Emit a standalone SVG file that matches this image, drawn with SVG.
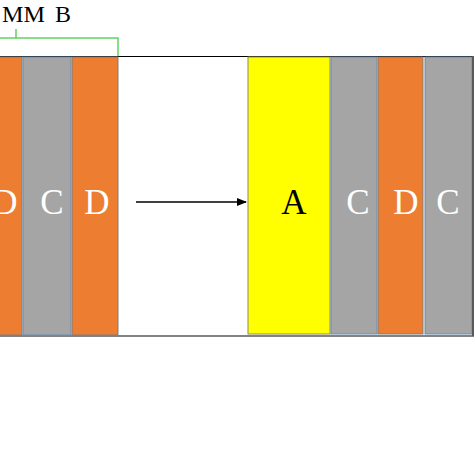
<svg xmlns="http://www.w3.org/2000/svg" width="474" height="474" viewBox="0 0 474 474">
<defs>
<style>
.o{fill:#ED7D31;stroke:#7F7F7F;stroke-width:1}
.g{fill:#A5A5A5;stroke:#6A8CAE;stroke-width:1}
.y{fill:#FFFF00;stroke:#8C8C5A;stroke-width:1}
.t{font-family:"Liberation Serif",serif;font-size:35px;text-anchor:middle;fill:#FFFFFF}
.h{font-family:"Liberation Serif",serif;font-size:24px;fill:#000}
</style>
<marker id="ah" markerWidth="10" markerHeight="8" refX="9" refY="4" orient="auto" markerUnits="userSpaceOnUse">
<path d="M0,0 L10,4 L0,8 Z" fill="#000"/>
</marker>
</defs>
<rect width="474" height="474" fill="#fff"/>
<line x1="0" y1="56.5" x2="474" y2="56.5" stroke="#000" stroke-width="1"/>
<line x1="0" y1="336" x2="474" y2="336" stroke="#595959" stroke-width="1.5"/>
<g id="n1"><rect class="o" x="-2" y="57" width="24" height="278"/><text class="t" x="5" y="214">D</text></g>
<g id="n2"><rect class="g" x="23" y="57" width="48" height="278"/><text class="t" x="52" y="214">C</text></g>
<g id="n3"><rect class="o" x="72" y="57" width="46" height="278"/><text class="t" x="97" y="214">D</text></g>
<g id="n4"><rect class="y" x="248" y="57" width="82" height="277"/><text class="t" x="294" y="214" style="fill:#000">A</text></g>
<g id="n5"><rect class="g" x="331" y="57" width="46" height="277"/><text class="t" x="358" y="214">C</text></g>
<g id="n6"><rect class="o" x="378" y="57" width="45" height="277"/><text class="t" x="406" y="214">D</text></g>
<g id="n7"><rect class="g" x="425" y="57" width="47" height="277"/><text class="t" x="448" y="214">C</text></g>
<line x1="473" y1="56" x2="473" y2="336" stroke="#595959" stroke-width="2"/>
<g id="label">
<path d="M0,38 H118 V56 M16,38 V29" fill="none" stroke="#5FD35F" stroke-width="1.5"/>
<text class="h" x="2" y="22" textLength="43" lengthAdjust="spacingAndGlyphs">MM</text>
<text class="h" x="55" y="22" textLength="16" lengthAdjust="spacingAndGlyphs">B</text>
</g>
<g id="connectors">
<line x1="136" y1="202" x2="246" y2="202" stroke="#000" stroke-width="1.3" marker-end="url(#ah)"/>
</g>
</svg>
